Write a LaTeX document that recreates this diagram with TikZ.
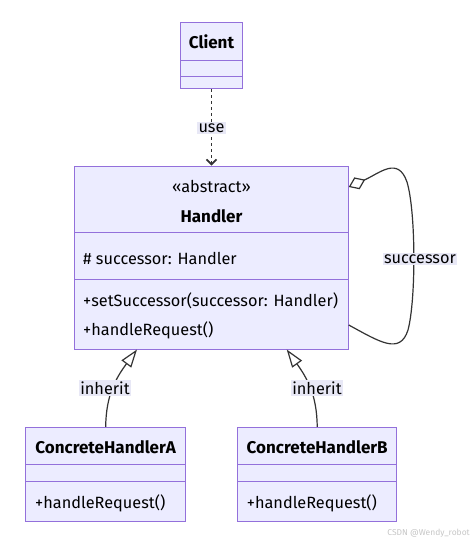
\documentclass[tikz,border=0pt]{standalone}
\usepackage{fontspec}
\setmainfont{Fira Sans}
\usetikzlibrary{arrows.meta}
\definecolor{classfill}{HTML}{ECECFF}
\definecolor{classline}{HTML}{9370DB}
\definecolor{labelfill}{HTML}{E8E8F6}
\definecolor{edgeline}{HTML}{333333}
\tikzset{
  classbox/.style={draw=classline, fill=classfill, line width=1pt, inner sep=0pt},
  member/.style={anchor=base west, inner sep=0pt, font=\fontsize{16.3}{19}\selectfont},
  classname/.style={anchor=base, inner sep=0pt, font=\fontsize{17}{20}\selectfont\bfseries},
  edgelabel/.style={anchor=base, fill=labelfill, inner sep=1.5pt, font=\fontsize{16.3}{19}\selectfont},
  edge/.style={draw=edgeline, line width=1.2pt}
}
\begin{document}
\begin{tikzpicture}[x=1pt, y=-1pt]
\useasboundingbox (0,0) rectangle (474,542);
\def\ya{453.3}
\def\yb{508.3}

% classes
\node[classbox, minimum width=62pt, minimum height=66pt] (client) at (211.5,55.5) {};
\draw[classline, line width=1pt] (client.west |- 0,60) -- (client.east |- 0,60);
\draw[classline, line width=1pt] (client.west |- 0,76.7) -- (client.east |- 0,76.7);
\node[classname] (clientname) at (211.5,48.3) {Client};

\node[classbox, minimum width=273.5pt, minimum height=183pt] (handler) at (211.5,257.5) {};
\draw[classline, line width=1pt] (handler.west |- 0,232.7) -- (handler.east |- 0,232.7);
\draw[classline, line width=1pt] (handler.west |- 0,279) -- (handler.east |- 0,279);
\node[classname, font=\fontsize{16.3}{19}\selectfont] (stereo) at (211.5,192.3) {«abstract»};
\node[classname] (handlername) at (211.5,222.3) {Handler};
\node[member] (attr) at (83,264) {\# successor: Handler};
\node[member] (setop) at (83,306.7) {+setSuccessor(successor: Handler)};
\node[member] (handleop) at (83,335.7) {+handleRequest()};

\node[classbox, minimum width=160pt, minimum height=94.4pt] (concA) at (105.7,474.5) {};
\draw[classline, line width=1pt] (concA.west |- 0,464.3) -- (concA.east |- 0,464.3);
\draw[classline, line width=1pt] (concA.west |- 0,481) -- (concA.east |- 0,481);
\node[classname] (concAname) at (105.7,\ya) {ConcreteHandlerA};
\node[member] (concAop) at (35,\yb) {+handleRequest()};

\node[classbox, minimum width=159pt, minimum height=94.4pt] (concB) at (317.2,474.5) {};
\draw[classline, line width=1pt] (concB.west |- 0,464.3) -- (concB.east |- 0,464.3);
\draw[classline, line width=1pt] (concB.west |- 0,481) -- (concB.east |- 0,481);
\node[classname] (concBname) at (317.2,\ya) {ConcreteHandlerB};
\node[member] (concBop) at (246.7,\yb) {+handleRequest()};

% edges
\path[edge, dash pattern=on 3pt off 3pt, -{Straight Barb[length=5pt, width=10pt, line width=1.6pt]}] (client.south) -- (handler.north);
\node[edgelabel] (use) at (211.5,132.3) {use};

\path[edge, {Diamond[open, length=18pt, width=13pt]}-] ([yshift=70.5pt]handler.east)
  .. controls (380,173) and (398,156) .. (407,182)
  .. controls (416,212) and (416,300) .. (408,330)
  .. controls (400,355) and (380,342) .. ([yshift=-67.5pt]handler.east); % successor loop
\node[edgelabel] (succ) at (420,263.3) {successor};

\path[edge, -{Triangle[open, length=18pt, width=12pt]}] (concA.north)
  .. controls (106,395) and (116,378) .. ([xshift=-74.5pt]handler.south); % A to Handler
\node[edgelabel] (inhA) at (105,394) {inherit};
\path[edge, -{Triangle[open, length=18pt, width=12pt]}] (concB.north)
  .. controls (317,395) and (307,378) .. ([xshift=75.2pt]handler.south); % B to Handler
\node[edgelabel] (inhB) at (317,394) {inherit};

\node[anchor=base east, inner sep=0pt, text=gray!45, font=\fontsize{8.5}{10}\selectfont] (mark) at (470,535) {CSDN @Wendy\_robot};
\end{tikzpicture}
\end{document}
